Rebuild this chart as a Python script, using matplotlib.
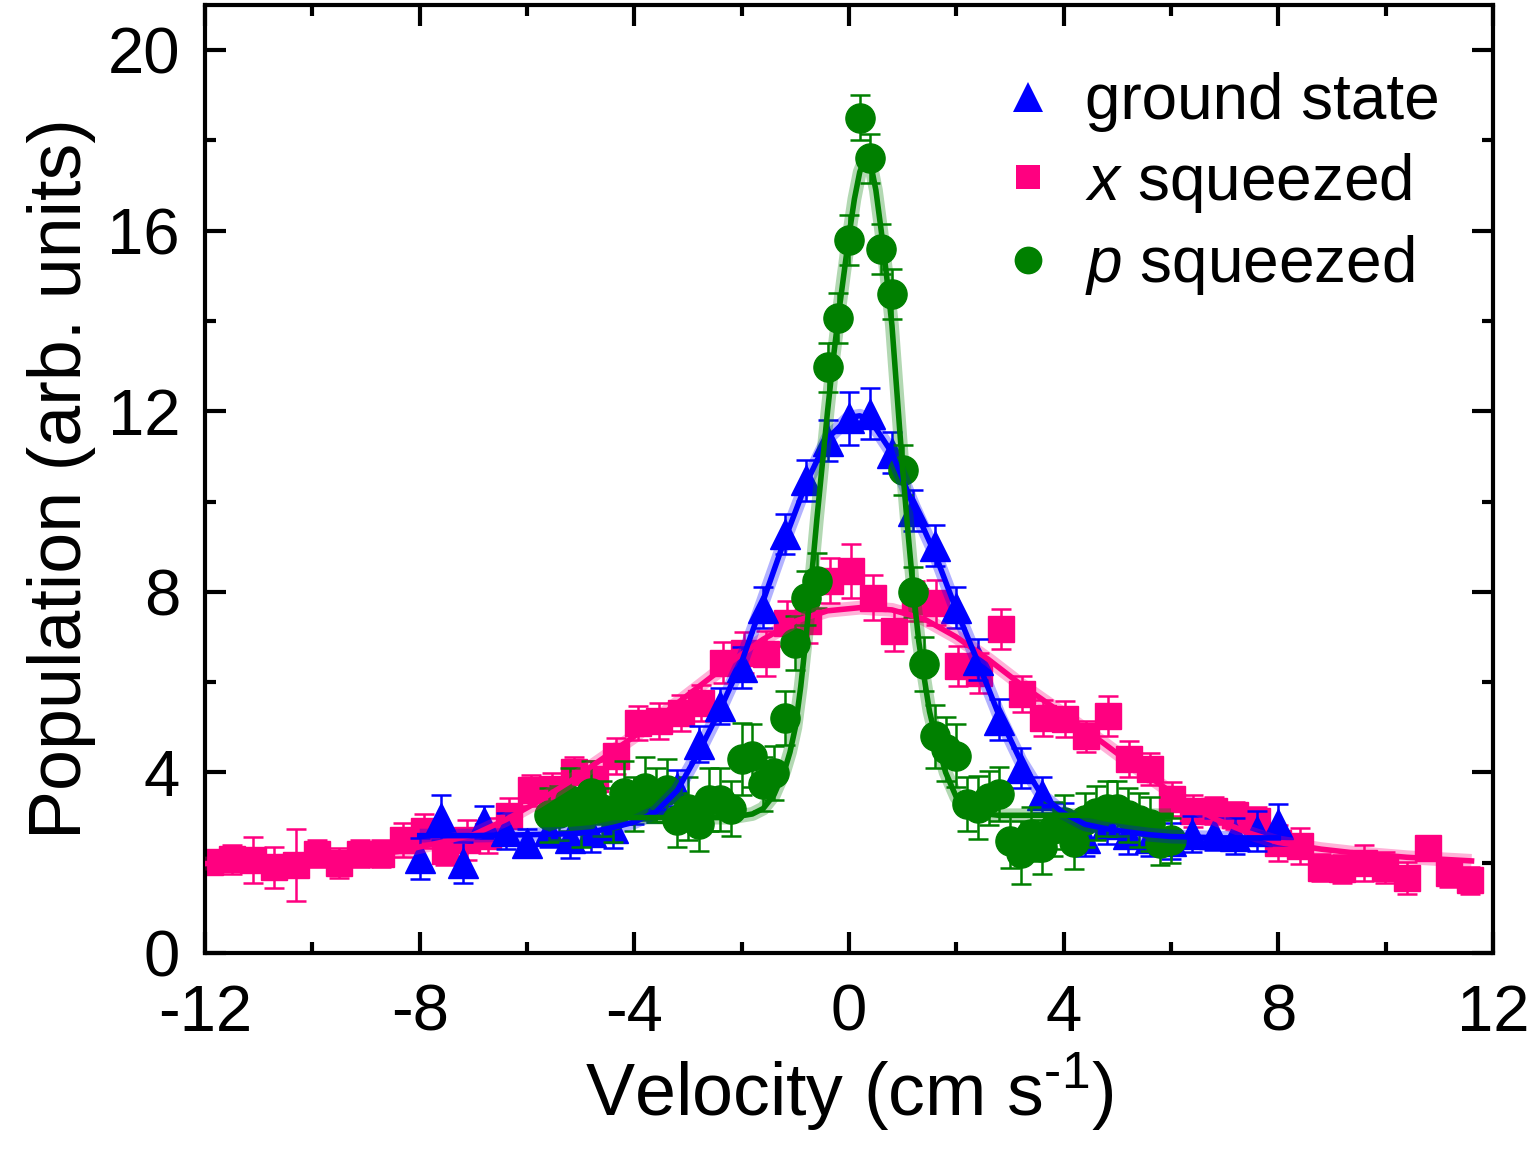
""" Velocity distributions of ground state and squeezed states
"""

import matplotlib
matplotlib.use('Agg')
import matplotlib.pyplot as plt
from matplotlib.lines import Line2D
from matplotlib.ticker import MultipleLocator

plt.rcParams['font.family'] = ['Liberation Sans', 'DejaVu Sans']
plt.rcParams['mathtext.fontset'] = 'custom'
plt.rcParams['mathtext.rm'] = 'Liberation Sans'
plt.rcParams['mathtext.it'] = 'Liberation Sans:italic'
plt.rcParams['axes.unicode_minus'] = False

BLUE = '#0000FF'
PINK = '#FF0080'
GREEN = '#008000'

# x squeezed (pink squares)
x_sq_v = [-11.90, -11.50, -11.10, -10.71, -10.31, -9.91, -9.51, -9.11, -8.72, -8.32,
          -7.92, -7.52, -7.12, -6.73, -6.33, -5.93, -5.53, -5.13, -4.74, -4.34,
          -3.94, -3.54, -3.14, -2.75, -2.35, -1.95, -1.55, -1.15, -0.76, -0.36,
          0.04, 0.44, 0.84, 1.23, 1.63, 2.03, 2.43, 2.83, 3.22, 3.62,
          4.02, 4.42, 4.82, 5.21, 5.61, 6.01, 6.41, 6.81, 7.20, 7.60,
          8.00, 8.40, 8.80, 9.19, 9.59, 9.99, 10.39, 10.79, 11.18, 11.58]
x_sq_pop = [2.02, 2.08, 2.06, 1.90, 1.95, 2.20, 2.00, 2.20, 2.20, 2.50,
            2.70, 2.26, 2.50, 2.60, 3.04, 3.60, 3.63, 4.00, 3.86, 4.37,
            5.10, 5.14, 5.32, 5.54, 6.43, 6.65, 6.63, 7.30, 7.36, 8.25,
            8.47, 7.87, 7.14, 7.80, 7.76, 6.36, 6.20, 7.18, 5.74, 5.20,
            5.18, 4.80, 5.25, 4.30, 4.08, 3.41, 3.15, 3.15, 3.05, 2.93,
            2.44, 2.37, 1.89, 1.86, 2.00, 1.89, 1.66, 2.33, 1.77, 1.61]
x_sq_err = [0.25, 0.32, 0.50, 0.45, 0.80, 0.30, 0.33, 0.30, 0.30, 0.38,
            0.38, 0.30, 0.45, 0.38, 0.40, 0.35, 0.35, 0.35, 0.40, 0.40,
            0.38, 0.40, 0.40, 0.40, 0.45, 0.45, 0.50, 0.50, 0.50, 0.50,
            0.60, 0.50, 0.45, 0.45, 0.50, 0.45, 0.45, 0.45, 0.40, 0.40,
            0.40, 0.35, 0.45, 0.40, 0.35, 0.38, 0.35, 0.30, 0.30, 0.30,
            0.40, 0.40, 0.30, 0.30, 0.40, 0.35, 0.35, 0.25, 0.30, 0.30]

# ground state (blue triangles)
gs_v = [-8.0, -7.6, -7.2, -6.8, -6.4, -6.0, -5.6, -5.2, -4.8, -4.4,
        -4.0, -3.6, -3.2, -2.8, -2.4, -2.0, -1.6, -1.2, -0.8, -0.4,
        0.0, 0.4, 0.8, 1.2, 1.6, 2.0, 2.4, 2.8, 3.2, 3.6,
        4.0, 4.4, 4.8, 5.2, 5.6, 6.0, 6.4, 6.8, 7.2, 7.6, 8.0]
gs_pop = [2.10, 3.00, 2.00, 2.90, 2.70, 2.44, 2.70, 2.55, 2.68, 2.78,
          3.30, 3.35, 3.66, 4.63, 5.48, 6.33, 7.65, 9.28, 10.47, 11.35,
          11.84, 11.95, 11.08, 9.80, 9.02, 7.65, 6.50, 5.17, 4.10, 3.50,
          2.93, 2.55, 2.86, 2.64, 2.55, 2.48, 2.64, 2.64, 2.60, 2.70, 2.85]
gs_err = [0.45, 0.50, 0.45, 0.35, 0.40, 0.30, 0.35, 0.45, 0.45, 0.45,
          0.45, 0.45, 0.40, 0.40, 0.40, 0.45, 0.45, 0.45, 0.45, 0.45,
          0.58, 0.57, 0.45, 0.45, 0.45, 0.45, 0.45, 0.45, 0.45, 0.40,
          0.40, 0.40, 0.45, 0.45, 0.40, 0.40, 0.40, 0.35, 0.40, 0.45, 0.45]

# p squeezed (green circles)
p_sq_v = [-5.6, -5.4, -5.2, -5.0, -4.8, -4.6, -4.4, -4.2, -4.0, -3.8,
          -3.6, -3.4, -3.2, -3.0, -2.8, -2.6, -2.4, -2.2, -2.0, -1.8,
          -1.6, -1.4, -1.2, -1.0, -0.8, -0.6, -0.4, -0.2, 0.0, 0.2,
          0.4, 0.6, 0.8, 1.0, 1.2, 1.4, 1.6, 1.8, 2.0, 2.2,
          2.4, 2.6, 2.8, 3.0, 3.2, 3.4, 3.6, 3.8, 4.0, 4.2,
          4.4, 4.6, 4.8, 5.0, 5.2, 5.4, 5.6, 5.8, 6.0]
p_sq_pop = [3.05, 3.10, 3.40, 2.95, 3.55, 3.20, 3.05, 3.55, 3.30, 3.65,
            3.50, 3.60, 2.95, 3.20, 2.85, 3.40, 3.40, 3.20, 4.30, 4.37,
            3.74, 3.99, 5.20, 6.87, 7.87, 8.25, 12.97, 14.06, 15.80, 18.50,
            17.60, 15.60, 14.60, 10.70, 8.00, 6.40, 4.80, 4.52, 4.37, 3.30,
            3.22, 3.44, 3.52, 2.48, 2.22, 2.64, 2.35, 2.75, 2.90, 2.45,
            2.95, 3.10, 3.20, 3.20, 3.05, 2.95, 2.85, 2.44, 2.50]
p_sq_err = [0.60, 0.60, 0.70, 0.60, 0.70, 0.60, 0.60, 0.70, 0.60, 0.70,
            0.60, 0.70, 0.60, 0.70, 0.60, 0.70, 0.70, 0.60, 0.80, 0.70,
            0.60, 0.60, 0.60, 0.60, 0.60, 0.60, 0.55, 0.55, 0.55, 0.50,
            0.55, 0.55, 0.55, 0.55, 0.55, 0.60, 0.70, 0.70, 0.70, 0.60,
            0.70, 0.60, 0.60, 0.60, 0.70, 0.60, 0.60, 0.60, 0.60, 0.60,
            0.60, 0.60, 0.60, 0.60, 0.60, 0.60, 0.60, 0.50, 0.50]

# fitted curves
x_fit_v = [-12.0, -11.2, -10.4, -9.4, -8.4, -7.6, -7.0, -6.4, -5.8, -5.2,
           -4.6, -4.0, -3.4, -2.8, -2.2, -1.6, -1.0, -0.4, 0.2, 0.8,
           1.4, 2.0, 2.6, 3.2, 3.8, 4.4, 5.0, 5.6, 6.2, 6.8,
           7.4, 8.0, 8.8, 9.4, 10.4, 11.6]
x_fit_pop = [1.98, 2.02, 2.05, 2.12, 2.25, 2.45, 2.62, 2.95, 3.35, 3.80,
             4.30, 4.80, 5.35, 5.90, 6.45, 6.95, 7.35, 7.58, 7.65, 7.60,
             7.40, 7.00, 6.50, 5.95, 5.45, 4.95, 4.42, 3.90, 3.40, 2.98,
             2.68, 2.45, 2.30, 2.22, 2.12, 2.04]

gs_fit_v = [-8.0, -7.0, -6.0, -5.2, -4.8, -4.4, -4.0, -3.6, -3.2, -2.8,
            -2.4, -2.0, -1.6, -1.2, -0.8, -0.4, 0.0, 0.2, 0.4, 0.8,
            1.2, 1.6, 2.0, 2.4, 2.8, 3.2, 3.6, 4.0, 4.4, 4.8,
            5.2, 5.6, 6.0, 7.0, 8.0]
gs_fit_pop = [2.60, 2.60, 2.62, 2.64, 2.68, 2.78, 2.90, 3.12, 3.60, 4.45,
              5.40, 6.45, 7.80, 9.15, 10.40, 11.40, 11.86, 11.90, 11.80, 11.08,
              9.90, 8.85, 7.60, 6.45, 5.25, 4.25, 3.48, 3.10, 2.85, 2.75,
              2.68, 2.62, 2.58, 2.55, 2.55]

p_fit_v = [-5.6, -3.0, -2.2, -1.8, -1.6, -1.4, -1.2, -1.1, -1.0, -0.9,
           -0.8, -0.7, -0.6, -0.5, -0.4, -0.3, -0.2, -0.1, 0.0, 0.1,
           0.2, 0.3, 0.4, 0.5, 0.6, 0.7, 0.8, 0.9, 1.0, 1.1,
           1.2, 1.3, 1.4, 1.5, 1.6, 1.8, 2.0, 2.2, 2.4, 2.8, 6.0]
p_fit_pop = [3.00, 3.00, 3.00, 3.08, 3.20, 3.50, 4.05, 4.45, 5.00, 5.90,
             7.00, 8.30, 9.60, 10.80, 12.00, 13.10, 14.10, 15.00, 15.90, 16.70,
             17.30, 17.60, 17.50, 16.90, 16.00, 15.00, 13.90, 12.30, 10.70, 9.30,
             8.00, 6.90, 6.10, 5.35, 4.85, 4.00, 3.45, 3.20, 3.10, 3.05, 3.05]

fig = plt.figure(figsize=(15.36, 11.56), dpi=100)
ax = fig.add_axes([0.1335, 0.1756, 0.8385, 0.8201])

eb_kw = dict(ls='none', elinewidth=1.8, capsize=7, capthick=1.8)
ax.errorbar(x_sq_v, x_sq_pop, yerr=x_sq_err, marker='s', ms=19,
            color=PINK, mec=PINK, ecolor=PINK, zorder=2, **eb_kw)
ax.errorbar(gs_v, gs_pop, yerr=gs_err, marker='^', ms=22,
            color=BLUE, mec=BLUE, ecolor=BLUE, zorder=3, **eb_kw)
ax.errorbar(p_sq_v, p_sq_pop, yerr=p_sq_err, marker='o', ms=21,
            color=GREEN, mec=GREEN, ecolor=GREEN, zorder=4, **eb_kw)

# fits with a faint confidence band underneath
for xs, ys, c in [(x_fit_v, x_fit_pop, PINK), (gs_fit_v, gs_fit_pop, BLUE),
                  (p_fit_v, p_fit_pop, GREEN)]:
    ax.plot(xs, ys, color=c, lw=10, alpha=0.3, solid_capstyle='butt', zorder=5)
    ax.plot(xs, ys, color=c, lw=4, zorder=6)

ax.set_xlim(-12, 12)
ax.set_ylim(0, 21)
ax.xaxis.set_major_locator(MultipleLocator(4))
ax.xaxis.set_minor_locator(MultipleLocator(2))
ax.yaxis.set_major_locator(MultipleLocator(4))
ax.yaxis.set_minor_locator(MultipleLocator(2))
ax.tick_params(which='both', direction='in', top=True, right=True, width=3)
ax.tick_params(which='major', length=15, labelsize=47)
ax.tick_params(which='minor', length=8)
ax.tick_params(axis='x', which='major', pad=22)
ax.tick_params(axis='y', which='major', pad=18)
for sp in ax.spines.values():
    sp.set_linewidth(3)

ax.set_xlabel('Velocity (cm s$^{\\text{-1}}$)', fontsize=53, labelpad=5)
ax.set_ylabel('Population (arb. units)', fontsize=53, labelpad=8)

handles = [Line2D([], [], ls='none', marker='^', ms=22, mew=0, color=BLUE),
           Line2D([], [], ls='none', marker='s', ms=17, mew=0, color=PINK),
           Line2D([], [], ls='none', marker='o', ms=20, mew=0, color=GREEN)]
ax.legend(handles, ['ground state', '$x$ squeezed', '$p$ squeezed'],
          loc='upper left', bbox_to_anchor=(0.614, 0.929), frameon=False,
          fontsize=46, handlelength=1.0, handletextpad=0.4,
          labelspacing=0.29, borderpad=0, borderaxespad=0)

fig.savefig('out.png', dpi=100)
